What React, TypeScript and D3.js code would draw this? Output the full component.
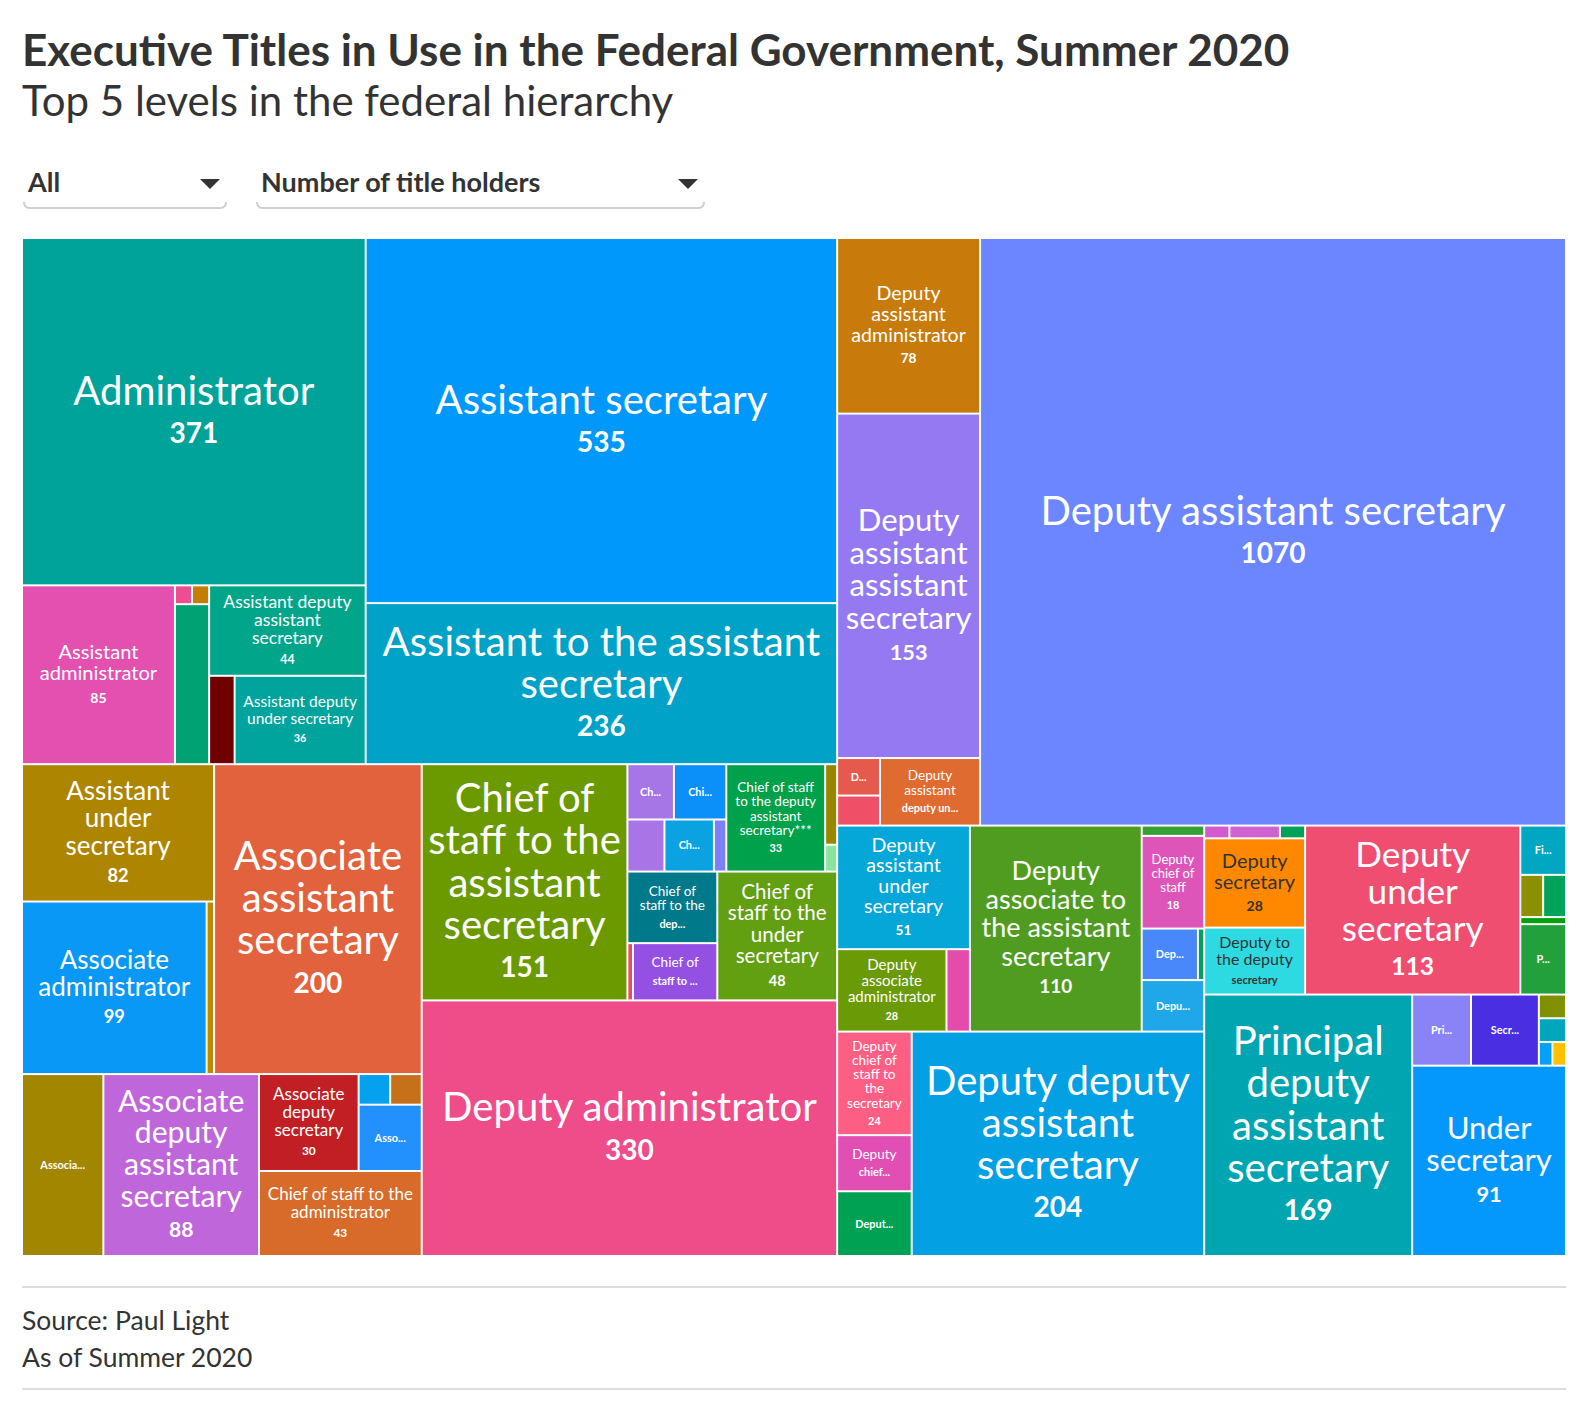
import React, { useMemo } from "react";
import * as d3 from "d3";

// Executive titles, in the alphabetical order used by the binary treemap
const TITLES = [
  "Administrator",
  "Assistant administrator",
  "Assistant attorney general",
  "Assistant chief of staff",
  "Assistant commissioner",
  "Assistant deputy assistant secretary",
  "Assistant deputy secretary",
  "Assistant deputy under secretary",
  "Assistant secretary",
  "Assistant to the assistant secretary",
  "Assistant under secretary",
  "Associate administrator",
  "Associate assistant administrator",
  "Associate assistant secretary",
  "Associate commissioner",
  "Associate deputy assistant secretary",
  "Associate deputy secretary",
  "Associate director",
  "Associate general counsel",
  "Associate under secretary",
  "Chief of staff to the administrator",
  "Chief of staff to the assistant secretary",
  "Chief of staff to the associate administrator",
  "Chief of staff to the chairman",
  "Chief of staff to the commissioner",
  "Chief of staff to the deputy administrator",
  "Chief of staff to the deputy assistant secretary",
  "Chief of staff to the deputy assistant secretary***",
  "Chief of staff to the deputy commissioner",
  "Chief of staff to the deputy director",
  "Chief of staff to the deputy secretary",
  "Chief of staff to the director",
  "Chief of staff to the secretary",
  "Chief of staff to the under secretary",
  "Deputy administrator",
  "Deputy assistant administrator",
  "Deputy assistant assistant secretary",
  "Deputy assistant attorney general",
  "Deputy assistant commissioner",
  "Deputy assistant deputy under secretary",
  "Deputy assistant secretary",
  "Deputy assistant under secretary",
  "Deputy associate administrator",
  "Deputy associate director",
  "Deputy associate to the assistant secretary",
  "Deputy chief financial officer",
  "Deputy chief of staff",
  "Deputy chief of staff for operations",
  "Deputy chief of staff for policy",
  "Deputy chief of staff to the deputy secretary",
  "Deputy chief of staff to the secretary",
  "Deputy chief operating officer",
  "Deputy commissioner",
  "Deputy deputy assistant secretary",
  "Deputy director",
  "Deputy general counsel",
  "Deputy inspector general",
  "Deputy secretary",
  "Deputy to the deputy secretary",
  "Deputy under secretary",
  "Fiscal assistant secretary",
  "General counsel",
  "Inspector general",
  "Managing director",
  "Principal deputy administrator",
  "Principal deputy assistant secretary",
  "Principal deputy under secretary",
  "Secretary",
  "Senior advisor",
  "Solicitor",
  "Special assistant",
  "Treasurer",
  "Under secretary",
];

// Number of title holders for each title
const HOLDERS = [
  371, 85, 1, 1, 17, 44, 7, 36, 535, 236,
  82, 99, 4, 200, 46, 88, 30, 3, 3, 13,
  43, 151, 8, 9, 6, 8, 2, 33, 3, 1,
  20, 1, 15, 48, 330, 78, 153, 5, 4, 21,
  1070, 51, 28, 6, 110, 2, 18, 9, 1, 10,
  24, 13, 15, 204, 1, 2, 1, 28, 21, 113,
  7, 3, 3, 1, 10, 169, 13, 15, 2, 2,
  1, 1, 91,
];

// Fill colour for each title
const FILLS = [
  "#00a39a", "#e350b0", "#ee4d91", "#c47d00", "#00a274", "#01a68a", "#6e0000", "#00a49d", "#0099fb", "#00a2c8",
  "#ae8500", "#0a98f6", "#bd8a00", "#e2623e", "#a28600", "#bf67da", "#c11f24", "#05a0ee", "#c6711a", "#2290fd",
  "#d86b29", "#6b9900", "#a776e6", "#0b8ff9", "#a874e6", "#0ba2e2", "#7b80f9", "#00a14b", "#968700", "#8ce39d",
  "#00798a", "#e84a6c", "#944fe3", "#62a012", "#ef4c8a", "#c87a0b", "#9479f3", "#e65a4d", "#ef5068", "#e06b31",
  "#6b86fe", "#05a6d8", "#6a9a05", "#e54bab", "#4f9c20", "#389f35", "#dd55b8", "#4988fb", "#00a15f", "#1fa7ea",
  "#fd5e84", "#e14fb4", "#00a152", "#04a0e4", "#d15bcc", "#d061d0", "#01a157", "#ff8800", "#2ddae2", "#ef4e70",
  "#00a7c2", "#8b9000", "#00a35b", "#02a00b", "#22a03c", "#00a5b2", "#8a83f8", "#4a2fe2", "#819000", "#00a6bb",
  "#04a0fa", "#ffc000", "#0498fc",
];

// How each cell's label is broken into lines; "more" replaces the value line
type LabelSpec = { size: number; lines: string[]; more?: string; dark?: boolean };
const LABELS: Record<string, LabelSpec> = {
  "Administrator": { size: 40.5, lines: ["Administrator"] },
  "Assistant administrator": { size: 20.3, lines: ["Assistant", "administrator"] },
  "Assistant deputy assistant secretary": { size: 17.7, lines: ["Assistant deputy", "assistant", "secretary"] },
  "Assistant deputy under secretary": { size: 15.7, lines: ["Assistant deputy", "under secretary"] },
  "Assistant secretary": { size: 40.5, lines: ["Assistant secretary"] },
  "Assistant to the assistant secretary": { size: 40.5, lines: ["Assistant to the assistant", "secretary"] },
  "Assistant under secretary": { size: 26.3, lines: ["Assistant", "under", "secretary"] },
  "Associate administrator": { size: 26.3, lines: ["Associate", "administrator"] },
  "Associate assistant secretary": { size: 40.5, lines: ["Associate", "assistant", "secretary"] },
  "Associate commissioner": { size: 11, lines: [], more: "Associa..." },
  "Associate deputy assistant secretary": { size: 30.4, lines: ["Associate", "deputy", "assistant", "secretary"] },
  "Associate deputy secretary": { size: 17.2, lines: ["Associate", "deputy", "secretary"] },
  "Associate under secretary": { size: 11, lines: [], more: "Asso..." },
  "Chief of staff to the administrator": { size: 17.2, lines: ["Chief of staff to the", "administrator"] },
  "Chief of staff to the assistant secretary": { size: 40.5, lines: ["Chief of", "staff to the", "assistant", "secretary"] },
  "Chief of staff to the associate administrator": { size: 11, lines: [], more: "Ch..." },
  "Chief of staff to the chairman": { size: 11, lines: [], more: "Chi..." },
  "Chief of staff to the deputy administrator": { size: 11, lines: [], more: "Ch..." },
  "Chief of staff to the deputy assistant secretary***": { size: 13.7, lines: ["Chief of staff", "to the deputy", "assistant", "secretary***"] },
  "Chief of staff to the deputy secretary": { size: 13.7, lines: ["Chief of", "staff to the"], more: "dep..." },
  "Chief of staff to the secretary": { size: 13.7, lines: ["Chief of"], more: "staff to ..." },
  "Chief of staff to the under secretary": { size: 20.8, lines: ["Chief of", "staff to the", "under", "secretary"] },
  "Deputy administrator": { size: 40.5, lines: ["Deputy administrator"] },
  "Deputy assistant administrator": { size: 19.8, lines: ["Deputy", "assistant", "administrator"] },
  "Deputy assistant assistant secretary": { size: 31.4, lines: ["Deputy", "assistant", "assistant", "secretary"] },
  "Deputy assistant attorney general": { size: 11, lines: [], more: "D..." },
  "Deputy assistant deputy under secretary": { size: 13.7, lines: ["Deputy", "assistant"], more: "deputy un..." },
  "Deputy assistant secretary": { size: 40.5, lines: ["Deputy assistant secretary"] },
  "Deputy assistant under secretary": { size: 19.8, lines: ["Deputy", "assistant", "under", "secretary"] },
  "Deputy associate administrator": { size: 15.2, lines: ["Deputy", "associate", "administrator"] },
  "Deputy associate to the assistant secretary": { size: 27.3, lines: ["Deputy", "associate to", "the assistant", "secretary"] },
  "Deputy chief of staff": { size: 13.2, lines: ["Deputy", "chief of", "staff"] },
  "Deputy chief of staff for operations": { size: 11, lines: [], more: "Dep..." },
  "Deputy chief of staff to the deputy secretary": { size: 11, lines: [], more: "Depu..." },
  "Deputy chief of staff to the secretary": { size: 13.7, lines: ["Deputy", "chief of", "staff to", "the", "secretary"] },
  "Deputy chief operating officer": { size: 13.7, lines: ["Deputy"], more: "chief..." },
  "Deputy commissioner": { size: 11, lines: [], more: "Deput..." },
  "Deputy deputy assistant secretary": { size: 40.5, lines: ["Deputy deputy", "assistant", "secretary"] },
  "Deputy secretary": { size: 20.3, lines: ["Deputy", "secretary"], dark: true },
  "Deputy to the deputy secretary": { size: 16.2, lines: ["Deputy to", "the deputy"], more: "secretary", dark: true },
  "Deputy under secretary": { size: 35.5, lines: ["Deputy", "under", "secretary"] },
  "Fiscal assistant secretary": { size: 11, lines: [], more: "Fi..." },
  "Principal deputy administrator": { size: 11, lines: [], more: "P..." },
  "Principal deputy assistant secretary": { size: 40.5, lines: ["Principal", "deputy", "assistant", "secretary"] },
  "Principal deputy under secretary": { size: 11, lines: [], more: "Pri..." },
  "Secretary": { size: 11, lines: [], more: "Secr..." },
  "Under secretary": { size: 31.4, lines: ["Under", "secretary"] },
};

const FONT = "Lato, 'Open Sans', sans-serif";
const FONT_SCALE = 0.99;
const TEXT = "#333333";

const BOX = { x0: 22, y0: 238, x1: 1566, y1: 1256 };

let measureCtx: CanvasRenderingContext2D | null = null;
function textWidth(s: string, size: number, weight: number) {
  if (!measureCtx) measureCtx = document.createElement("canvas").getContext("2d");
  if (!measureCtx) return s.length * size * 0.5;
  measureCtx.font = `${weight} ${size}px Lato`;
  return measureCtx.measureText(s).width;
}

type Leaf = {
  name: string;
  value: number;
  fill: string;
  x0: number;
  y0: number;
  x1: number;
  y1: number;
};

// One <text> per cell: name lines in regular weight, then the value (or a
// truncated remainder) in bold underneath.
function CellLabel({ leaf }: { leaf: Leaf }) {
  const spec = LABELS[leaf.name];
  if (!spec) return null;
  const w = leaf.x1 - leaf.x0;
  const cx = (leaf.x0 + leaf.x1) / 2;
  const cy = (leaf.y0 + leaf.y1) / 2;
  const color = spec.dark ? TEXT : "#ffffff";

  let fs = spec.size * FONT_SCALE;
  let vs = Math.max(spec.size * 0.7, 11) * FONT_SCALE;
  let lh = spec.size * 1.04;
  let gap = spec.size * 0.9 + 6;
  const bottomText = spec.more ?? String(leaf.value);

  const widest = Math.max(
    ...spec.lines.map((l) => textWidth(l, fs, 400)),
    textWidth(bottomText, vs, 700)
  );
  const room = w - 8;
  if (widest > room) {
    const k = room / widest;
    fs *= k;
    vs *= k;
    lh *= k;
    gap *= k;
  }

  const n = spec.lines.length;
  const span = n === 0 ? 0 : (n - 1) * lh + gap;
  const first = cy - span / 2;
  return (
    <text fill={color} textAnchor="middle">
      {spec.lines.map((l, i) => (
        <tspan key={i} x={cx} y={first + i * lh + fs * 0.36} fontSize={fs} fontWeight={400}>
          {l}
        </tspan>
      ))}
      <tspan x={cx} y={first + span + vs * 0.36} fontSize={vs} fontWeight={700}>
        {bottomText}
      </tspan>
    </text>
  );
}

function Dropdown({ x0, x1, label }: { x0: number; x1: number; label: string }) {
  const y = 208;
  const r = 6;
  return (
    <g>
      <path
        d={`M${x0},${y - r} Q${x0},${y} ${x0 + r},${y} L${x1 - r},${y} Q${x1},${y} ${x1},${y - r}`}
        fill="none"
        stroke="#cfcfcf"
        strokeWidth={2}
      />
      <text x={x0 + 4} y={192} fontSize={27} fontWeight={700} fill={TEXT}>
        {label}
      </text>
      <path d={`M${x1 - 26},${179} L${x1 - 6},${179} L${x1 - 16},${189} Z`} fill={TEXT} />
    </g>
  );
}

export default function App() {
  const leaves = useMemo<Leaf[]>(() => {
    const data = {
      name: "root",
      children: TITLES.map((t, i) => ({ name: t, value: HOLDERS[i], fill: FILLS[i] })),
    };
    const root = d3
      .hierarchy<any>(data)
      .sum((d: any) => (d.children ? 0 : d.value));
    d3
      .treemap<any>()
      .tile(d3.treemapBinary)
      .size([BOX.x1 - BOX.x0, BOX.y1 - BOX.y0])(root);
    return (root.leaves() as any[]).map((n) => ({
      name: n.data.name,
      value: n.data.value,
      fill: n.data.fill,
      x0: BOX.x0 + n.x0,
      y0: BOX.y0 + n.y0,
      x1: BOX.x0 + n.x1,
      y1: BOX.y0 + n.y1,
    }));
  }, []);

  return (
    <svg
      width={1588}
      height={1410}
      style={{ position: "absolute", left: 0, top: 0, background: "#ffffff" }}
      fontFamily={FONT}
    >
      <text x={22} y={66} fontSize={44} fontWeight={700} fill={TEXT}>
        Executive Titles in Use in the Federal Government, Summer 2020
      </text>
      <text x={22} y={116} fontSize={42} fontWeight={400} fill={TEXT}>
        Top 5 levels in the federal hierarchy
      </text>

      <Dropdown x0={24} x1={226} label="All" />
      <Dropdown x0={257} x1={704} label="Number of title holders" />

      <g>
        {leaves.map((l) => (
          <rect
            key={l.name}
            x={l.x0 + 1}
            y={l.y0 + 1}
            width={Math.max(0, l.x1 - l.x0 - 2)}
            height={Math.max(0, l.y1 - l.y0 - 2)}
            fill={l.fill}
          />
        ))}
      </g>
      <g>
        {leaves.map((l) => (
          <CellLabel key={l.name} leaf={l} />
        ))}
      </g>

      <line x1={22} x2={1566} y1={1287} y2={1287} stroke="#dddddd" strokeWidth={2} />
      <text x={22} y={1330} fontSize={26.5} fill={TEXT}>
        Source: Paul Light
      </text>
      <text x={22} y={1367} fontSize={26.5} fill={TEXT}>
        As of Summer 2020
      </text>
      <line x1={22} x2={1566} y1={1389} y2={1389} stroke="#dddddd" strokeWidth={2} />
    </svg>
  );
}
